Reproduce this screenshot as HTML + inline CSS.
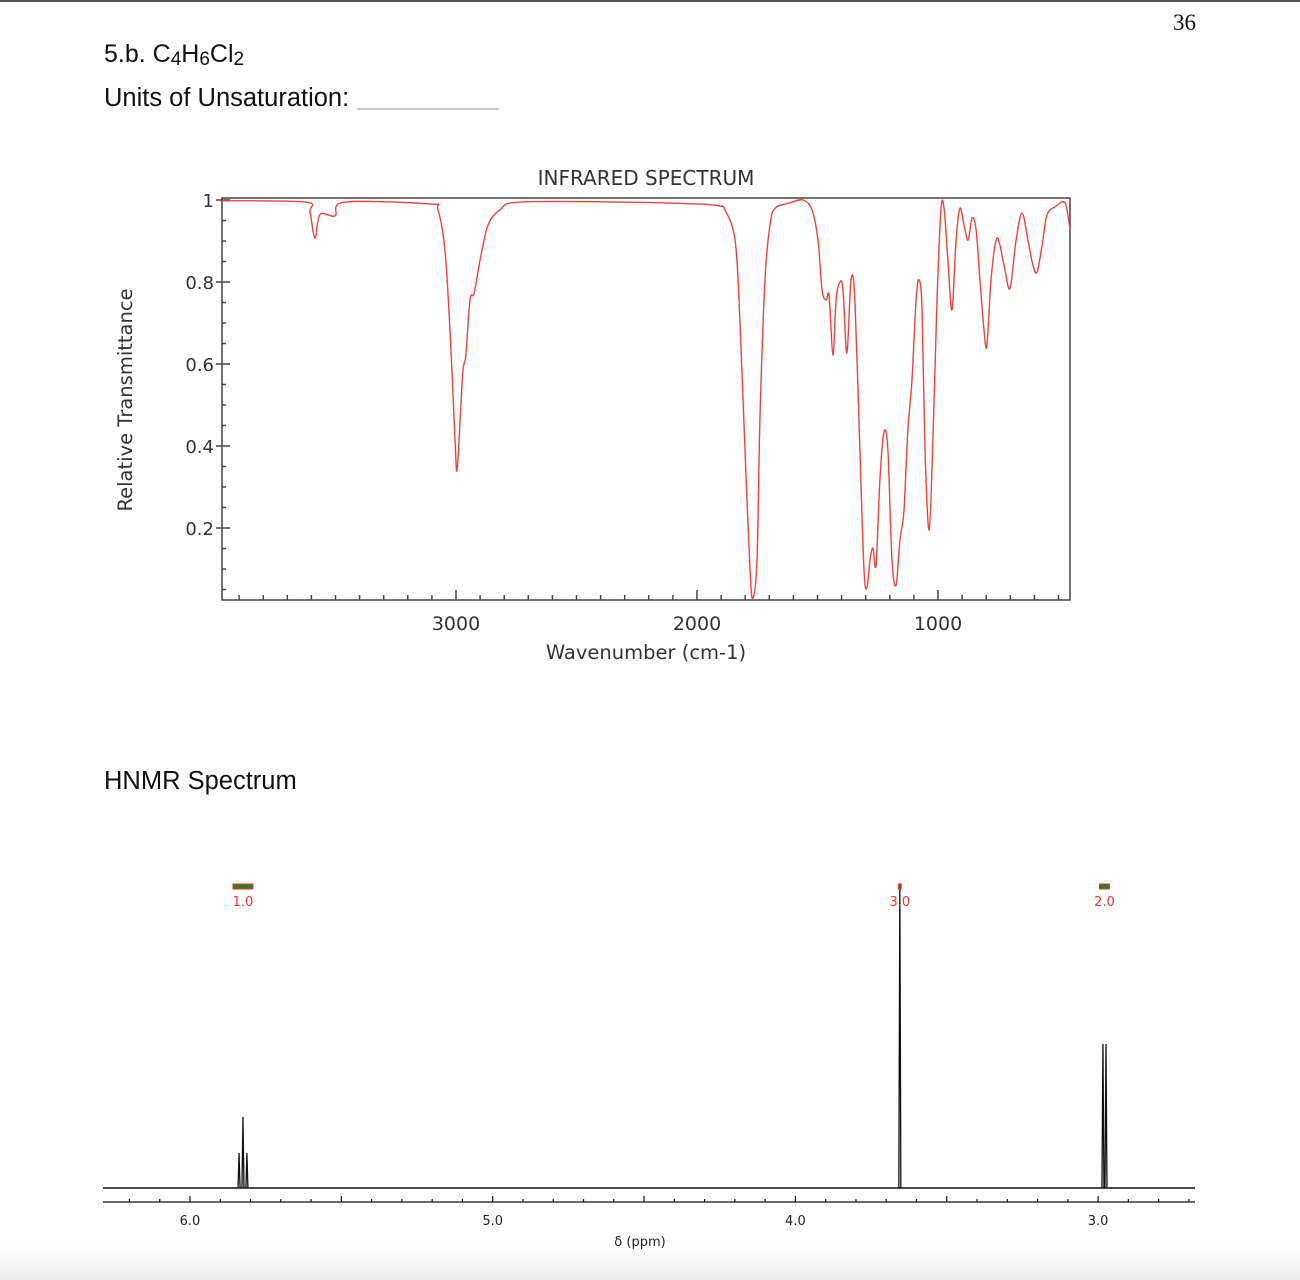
<!DOCTYPE html>
<html><head><meta charset="utf-8"><style>
html,body{margin:0;padding:0;background:#fff;}
svg{display:block;}
</style></head><body>
<svg id="pg" width="1300" height="1280" viewBox="0 0 1300 1280" xmlns="http://www.w3.org/2000/svg" font-family="Liberation Sans, sans-serif">
<defs><linearGradient id="bg" x1="0" y1="0" x2="0" y2="1"><stop offset="0" stop-color="#fff"/><stop offset="1" stop-color="#ececec"/></linearGradient></defs>
<rect x="0" y="1245" width="1300" height="35" fill="url(#bg)"/>
<rect x="0" y="0" width="1300" height="2" fill="#555"/>
<text x="1196" y="30" font-family="Liberation Serif, serif" font-size="23" text-anchor="end" fill="#111">36</text>
<text x="104" y="62" font-size="25" fill="#111">5.b.  C<tspan font-size="19" dy="3">4</tspan><tspan dy="-3">H</tspan><tspan font-size="19" dy="3">6</tspan><tspan dy="-3">Cl</tspan><tspan font-size="19" dy="3">2</tspan></text>
<text x="104" y="106" font-size="25.5" fill="#111">Units of Unsaturation:</text>
<line x1="357" y1="109" x2="499" y2="109" stroke="#999" stroke-width="1"/>

<g id="ir">
<text x="646" y="185" font-family="DejaVu Sans, sans-serif" font-size="20" text-anchor="middle" fill="#333">INFRARED SPECTRUM</text>
<text transform="translate(132,400) rotate(-90)" font-family="DejaVu Sans, sans-serif" font-size="19.5" text-anchor="middle" fill="#333">Relative Transmittance</text>
<text x="646" y="659" font-family="DejaVu Sans, sans-serif" font-size="19.5" text-anchor="middle" fill="#333">Wavenumber (cm-1)</text>
<rect x="222" y="198" width="848" height="402" fill="none" stroke="#444" stroke-width="1.5"/>
</g>

<text x="104" y="789" font-size="25.5" fill="#111">HNMR Spectrum</text>
<g id="nmr">
<text x="640" y="1246" font-family="DejaVu Sans, sans-serif" font-size="13" text-anchor="middle" fill="#222">δ (ppm)</text>
</g>
</svg>
<script>
const NS='http://www.w3.org/2000/svg';
// IR data
const irWavenumber=[3971,3626,3606,3585,3564,3502,3461,3108,3075,3046,3025,3004,2996,2983,2971,2959,2942,2925,2900,2867,2817,2734,2320,1988,1905,1884,1842,1822,1801,1780,1768,1751,1739,1718,1697,1676,1614,1560,1523,1498,1481,1464,1452,1436,1423,1407,1394,1378,1361,1345,1324,1307,1295,1282,1270,1257,1241,1224,1208,1191,1174,1158,1141,1125,1108,1091,1079,1066,1054,1037,1021,1004,988,975,959,942,925,909,892,875,859,842,826,809,797,780,759,743,722,701,676,651,627,606,589,568,548,515,473,452];
const irTransmittance=[0.998,0.995,0.97,0.907,0.965,0.961,0.995,0.99,0.976,0.878,0.683,0.415,0.34,0.463,0.585,0.622,0.756,0.773,0.854,0.939,0.976,0.995,0.995,0.99,0.985,0.976,0.902,0.707,0.39,0.098,0.029,0.122,0.463,0.805,0.939,0.98,0.993,1.0,0.976,0.902,0.78,0.756,0.766,0.622,0.756,0.8,0.78,0.627,0.805,0.756,0.39,0.098,0.054,0.122,0.151,0.11,0.317,0.434,0.39,0.122,0.061,0.171,0.244,0.439,0.561,0.756,0.805,0.732,0.39,0.195,0.415,0.756,0.976,0.98,0.854,0.732,0.902,0.98,0.939,0.902,0.956,0.927,0.805,0.683,0.645,0.805,0.902,0.89,0.829,0.785,0.902,0.968,0.902,0.841,0.824,0.89,0.963,0.983,0.993,0.927];
const irXTicks=[3000,2000,1000];
const irYTicks=[0.2,0.4,0.6,0.8,1];
const irYTickLabels=['0.2','0.4','0.6','0.8','1'];
// NMR data
const nmrPeakPpm=[5.838,5.825,5.812,3.655,2.984,2.974];
const nmrPeakHeight=[35,71,35,303,144,144];
const nmrIntegrals=['1.0','3.0','2.0'];
const nmrIntegralPpm=[5.825,3.655,2.979];
const nmrXTicks=[6.0,5.0,4.0,3.0];
const nmrXTickLabels=['6.0','5.0','4.0','3.0'];

function irX(w){return 456+(3000-w)*0.241;}
function irY(t){return 610-t*410;}
function nmrX(p){return 190+(6-p)*302.7;}
const ir=document.getElementById('ir'), nmr=document.getElementById('nmr');
function mk(tag,attrs,parent){const e=document.createElementNS(NS,tag);for(const k in attrs)e.setAttribute(k,attrs[k]);parent.appendChild(e);return e;}

for(let w=3900;w>=500;w-=100){
  const x=irX(w);const major=w%1000===0;
  const t=mk('line',{x1:x,x2:x,y1:600,y2:major?590:595,stroke:'#444','stroke-width':1.5},ir);
  
  
}
irXTicks.forEach(w=>{
  const t=mk('text',{x:irX(w),y:630,'font-size':19,'font-family':'DejaVu Sans, sans-serif','text-anchor':'middle',fill:'#333'},ir);t.textContent=String(w);
  
  
});
for(let i=1;i<=20;i++){
  const v=i*0.05;const y=irY(v);const major=i%4===0;
  const t=mk('line',{x1:major?216:222,x2:major?230:226,y1:y,y2:y,stroke:'#444','stroke-width':1.5},ir);
  
  
}
irYTicks.forEach((v,i)=>{
  const t=mk('text',{x:214,y:irY(v)+7,'font-size':18,'font-family':'DejaVu Sans, sans-serif','text-anchor':'end',fill:'#333'},ir);t.textContent=irYTickLabels[i];
  
  
});
// smooth path (Catmull-Rom)
const P=irWavenumber.map((w,i)=>[irX(w),irY(irTransmittance[i])]);
let d='M'+P[0][0].toFixed(1)+','+P[0][1].toFixed(1);
for(let i=0;i<P.length-1;i++){
  const p0=P[Math.max(0,i-1)],p1=P[i],p2=P[i+1],p3=P[Math.min(P.length-1,i+2)];
  const c1=[p1[0]+(p2[0]-p0[0])/6,p1[1]+(p2[1]-p0[1])/6];
  const c2=[p2[0]-(p3[0]-p1[0])/6,p2[1]-(p3[1]-p1[1])/6];
  d+=` C${c1[0].toFixed(1)},${c1[1].toFixed(1)} ${c2[0].toFixed(1)},${c2[1].toFixed(1)} ${p2[0].toFixed(1)},${p2[1].toFixed(1)}`;
}
const pl=mk('path',{d:d,fill:'none',stroke:'#e8453c','stroke-width':1.4,'stroke-linejoin':'round'},ir);



const base=1188;
const bl=mk('line',{x1:103,x2:1195,y1:base,y2:base,stroke:'#111','stroke-width':1.5},nmr);


const ax=mk('line',{x1:103,x2:1195,y1:1202,y2:1202,stroke:'#111','stroke-width':1.3},nmr);


for(let k=62;k>=27;k--){
  const p=k/10;const x=nmrX(p);const major=k%5===0;
  const t=mk('line',{x1:x,x2:x,y1:1202,y2:major?1196:1199,stroke:'#111','stroke-width':1.2},nmr);
  
  
}
nmrXTicks.forEach((p,i)=>{
  const t=mk('text',{x:nmrX(p),y:1225,'font-size':13,'font-family':'DejaVu Sans, sans-serif','text-anchor':'middle',fill:'#222'},nmr);t.textContent=nmrXTickLabels[i];
  
  
});
nmrPeakPpm.forEach((p,i)=>{
  const x=nmrX(p);
  const pk=mk('path',{d:`M${x-1},${base} L${x},${base-nmrPeakHeight[i]} L${x+1},${base}`,fill:'none',stroke:'#111','stroke-width':1.3},nmr);
  
  
});
nmrIntegralPpm.forEach((p,i)=>{
  const x=nmrX(p);const w=i===0?20:(i===1?3:10);
  const r=mk('rect',{x:x-w/2,y:884,width:w,height:5,fill:'#2e7d1e',stroke:'#e33',"stroke-width":1},nmr);
  
  
  const t=mk('text',{x:x,y:906,'font-size':13,'font-family':'DejaVu Sans, sans-serif','text-anchor':'middle',fill:'#e33'},nmr);t.textContent=nmrIntegrals[i];
  
  
});
</script>
</body></html>
